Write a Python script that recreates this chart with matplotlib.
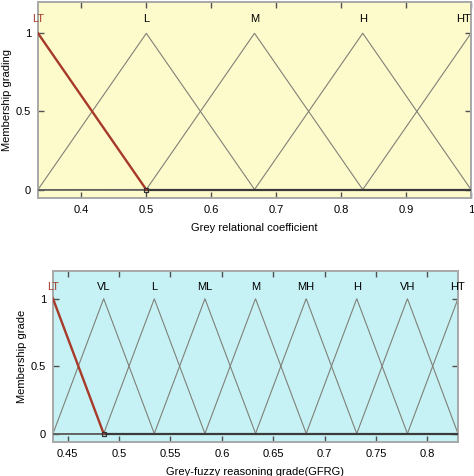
import matplotlib
matplotlib.use("Agg")
import matplotlib.pyplot as plt
import numpy as np

plt.rcParams['font.family'] = ['Liberation Sans', 'DejaVu Sans']

# upper panel: grey relational coefficient
top_labels = ["LT", "L", "M", "H", "HT"]
top_peaks = [1 / 3, 0.5, 2 / 3, 5 / 6, 1.0]
top_xticks = [0.4, 0.5, 0.6, 0.7, 0.8, 0.9, 1.0]
top_xticklabels = ["0.4", "0.5", "0.6", "0.7", "0.8", "0.9", "1"]

# lower panel: grey-fuzzy reasoning grade
bot_labels = ["LT", "VL", "L", "ML", "M", "MH", "H", "VH", "HT"]
bot_peaks = [0.4357, 0.4850, 0.5342, 0.5835, 0.6327, 0.6820, 0.7312, 0.7805, 0.8297]
bot_xticks = [0.45, 0.5, 0.55, 0.6, 0.65, 0.7, 0.75, 0.8]
bot_xticklabels = ["0.45", "0.5", "0.55", "0.6", "0.65", "0.7", "0.75", "0.8"]

yticks = [0, 0.5, 1]
yticklabels = ["0", "0.5", "1"]

FS = 8
GREY = "#808078"
RED = "#a83a2a"


def draw_panel(ax, labels, peaks, xticks, xticklabels, bg, xlabel, ylabel, ylim,
               last_right=False):
    x = np.linspace(peaks[0], peaks[-1], 2000)
    n = len(peaks)
    for i in range(n):
        a = peaks[i - 1] if i > 0 else peaks[i]
        c = peaks[i + 1] if i < n - 1 else peaks[i]
        xs = [peaks[0], a, peaks[i], c, peaks[-1]]
        ys = [0, 0, 1, 0, 0]
        y = np.interp(x, xs, ys)
        if i == 0:
            y = np.interp(x, [peaks[0], peaks[1]], [1, 0])
        ax.plot(x, y, color=GREY, lw=0.8, zorder=2)
    # selected membership function (LT)
    ax.plot([peaks[0], peaks[1]], [1, 0], color=RED, lw=1.7, zorder=4)
    ax.plot([peaks[1], peaks[-1]], [0, 0], color="#3a3a3a", lw=1.6, zorder=3)
    ax.plot([peaks[0], peaks[1]], [0, 0], color="#5a5a5a", lw=1.1, zorder=3)
    ax.plot([peaks[1]], [0], marker="s", ms=3.5, mfc="none", mec="#303030", mew=0.9, zorder=5)

    for i, lab in enumerate(labels):
        ha = "center"
        if last_right and i == n - 1:
            ha = "right"
        ax.text(peaks[i], 1.09, lab, ha=ha, va="center", fontsize=FS,
                color=RED if i == 0 else "black", clip_on=False)

    ax.set_facecolor(bg)
    ax.set_xlim(peaks[0], peaks[-1])
    ax.set_ylim(*ylim)
    ax.set_xticks(xticks)
    ax.set_xticklabels(xticklabels)
    ax.set_yticks(yticks)
    ax.set_yticklabels(yticklabels)
    ax.tick_params(direction="in", top=True, right=True, length=4, width=1.0,
                   color="#505050", labelsize=FS, pad=5)
    for s in ax.spines.values():
        s.set_color("#a8a8a8")
        s.set_linewidth(1.4)
    ax.set_xlabel(xlabel, fontsize=FS, labelpad=6)
    ax.set_ylabel(ylabel, fontsize=FS, labelpad=3)


fig = plt.figure(figsize=(4.74, 4.76), dpi=100)
ax1 = fig.add_axes([38 / 474, 1 - 198 / 476, 433 / 474, 196 / 476])
ax2 = fig.add_axes([53 / 474, 1 - 442 / 476, 405 / 474, 171 / 476])

draw_panel(ax1, top_labels, top_peaks, top_xticks, top_xticklabels, "#fdfbcc",
           "Grey relational coefficient", "Membership grading", (-0.054, 1.2),
           last_right=True)
draw_panel(ax2, bot_labels, bot_peaks, bot_xticks, bot_xticklabels, "#c6f2f5",
           "Grey-fuzzy reasoning grade(GFRG)", "Membership grade", (-0.062, 1.205))

fig.savefig("out.png", dpi=100)
